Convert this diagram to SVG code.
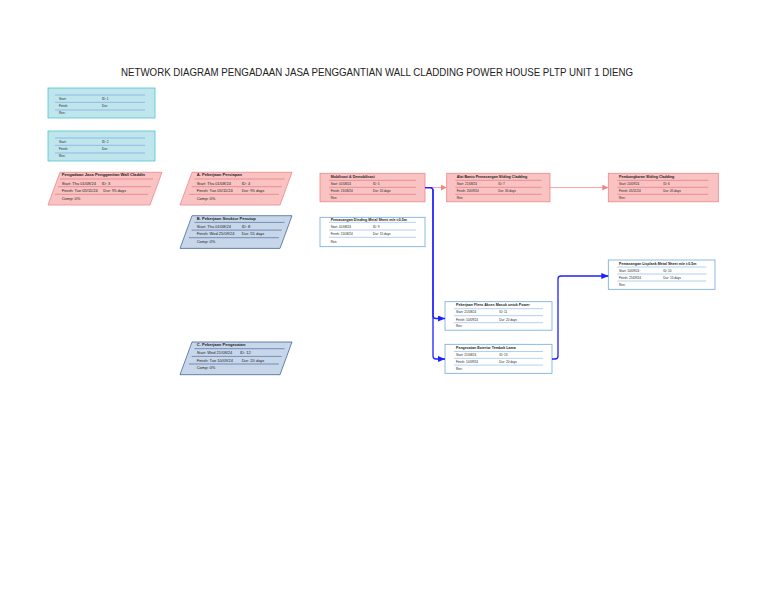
<svg xmlns="http://www.w3.org/2000/svg" width="768" height="594" viewBox="0 0 768 594">
<style>
text{font-family:"Liberation Sans",Arial,sans-serif;fill:#222}
.ttl{font-size:11px}
.bt{font-size:3.6px;font-weight:bold}
.bd{font-size:3.1px}
.pt{font-size:4.1px;font-weight:bold}
.pd{font-size:4px}
.leg{fill:#bfe6ec;stroke:#4ec4d3;stroke-width:0.8}
.legl{stroke:#6f9be3;stroke-width:0.6}
.pk{fill:#f9c3c3;stroke:#f08585;stroke-width:0.8}
.pkl{stroke:#e06a6a;stroke-width:0.6}
.gy{fill:#c8d6ea;stroke:#44679a;stroke-width:0.8}
.gyl{stroke:#3b5d8f;stroke-width:0.6}
.wh{fill:#ffffff;stroke:#6fa8dc;stroke-width:0.8}
.whl{stroke:#7fb0e4;stroke-width:0.6}
.cp{fill:none;stroke:#f28b8b;stroke-width:0.8}
.cb{fill:none;stroke:#2020ff;stroke-width:1.3}
</style>
<defs>
<marker id="ap" markerUnits="userSpaceOnUse" markerWidth="6" markerHeight="6" refX="6" refY="3" orient="auto"><path d="M0,0 L6,3 L0,6 z" fill="#f08585"/></marker>
<marker id="ab" markerUnits="userSpaceOnUse" markerWidth="7" markerHeight="6" refX="7" refY="3" orient="auto"><path d="M0,0 L7,3 L0,6 z" fill="#2020ff"/></marker>
</defs>
<rect width="768" height="594" fill="#ffffff"/>
<text class="ttl" x="121" y="75.5" textLength="512" lengthAdjust="spacingAndGlyphs">NETWORK DIAGRAM PENGADAAN JASA PENGGANTIAN WALL CLADDING POWER HOUSE PLTP UNIT 1 DIENG</text>

<g id="legend1" transform="translate(48,88)">
<rect class="leg" x="0" y="0" width="107" height="30"/>
<line class="legl" x1="7" y1="7" x2="97" y2="7"/>
<line class="legl" x1="7" y1="14.3" x2="97" y2="14.3"/>
<line class="legl" x1="7" y1="22" x2="97" y2="22"/>
<text class="bd" x="11" y="12">Start:</text><text class="bd" x="54" y="12">ID:  1</text>
<text class="bd" x="11" y="19">Finish:</text><text class="bd" x="54" y="19">Dur:</text>
<text class="bd" x="11" y="26">Res:</text>
</g>
<g id="legend2" transform="translate(48,131)">
<rect class="leg" x="0" y="0" width="107" height="30"/>
<line class="legl" x1="7" y1="7" x2="97" y2="7"/>
<line class="legl" x1="7" y1="14.3" x2="97" y2="14.3"/>
<line class="legl" x1="7" y1="22" x2="97" y2="22"/>
<text class="bd" x="11" y="12">Start:</text><text class="bd" x="54" y="12">ID:  2</text>
<text class="bd" x="11" y="19">Finish:</text><text class="bd" x="54" y="19">Dur:</text>
<text class="bd" x="11" y="26">Res:</text>
</g>

<g id="task3" transform="translate(48,172.3)">
<polygon class="pk" points="12,0 114,0 102,32.7 0,32.7"/>
<line class="pkl" x1="12" y1="6.7" x2="105" y2="6.7"/>
<line class="pkl" x1="10" y1="14.4" x2="103" y2="14.4"/>
<line class="pkl" x1="7" y1="22" x2="100" y2="22"/>
<text class="pt" x="13.7" y="4.2">Pengadaan Jasa Penggantian Wall Claddin</text>
<text class="pd" x="13.7" y="12.4">Start: Thu 01/08/24</text><text class="pd" x="53.7" y="12.4">ID:  3</text>
<text class="pd" x="13.7" y="19.8">Finish: Tue 05/11/24</text><text class="pd" x="55.3" y="19.8">Dur: 95 days</text>
<text class="pd" x="13.7" y="27.3">Comp: 0%</text>
</g>

<g id="task4" transform="translate(180,172.3)">
<polygon class="pk" points="12,0 112,0 100,32.7 0,32.7"/>
<line class="pkl" x1="14.5" y1="6.7" x2="104.5" y2="6.7"/>
<line class="pkl" x1="11.7" y1="14.4" x2="101.7" y2="14.4"/>
<line class="pkl" x1="8.9" y1="22" x2="98.9" y2="22"/>
<text class="pt" x="16.7" y="4.2">A. Pekerjaan Persiapan</text>
<text class="pd" x="16.7" y="12.4">Start: Thu 01/08/24</text><text class="pd" x="61.7" y="12.4">ID:  4</text>
<text class="pd" x="16.7" y="19.8">Finish: Tue 05/11/24</text><text class="pd" x="61.7" y="19.8">Dur: 95 days</text>
<text class="pd" x="16.7" y="27.3">Comp: 0%</text>
</g>

<g id="task8" transform="translate(180,215.7)">
<polygon class="gy" points="12,0 112,0 100,32.7 0,32.7"/>
<line class="gyl" x1="14.5" y1="6.7" x2="104.5" y2="6.7"/>
<line class="gyl" x1="11.7" y1="14.4" x2="101.7" y2="14.4"/>
<line class="gyl" x1="8.9" y1="22" x2="98.9" y2="22"/>
<text class="pt" x="16.7" y="4.2">B. Pekerjaan Struktur Penutup</text>
<text class="pd" x="16.7" y="12.4">Start: Thu 01/08/24</text><text class="pd" x="61.7" y="12.4">ID:  8</text>
<text class="pd" x="16.7" y="19.8">Finish: Wed 25/09/24</text><text class="pd" x="61.7" y="19.8">Dur: 55 days</text>
<text class="pd" x="16.7" y="27.3">Comp: 0%</text>
</g>

<g id="task12" transform="translate(180,342)">
<polygon class="gy" points="12,0 112,0 100,32.7 0,32.7"/>
<line class="gyl" x1="14.5" y1="6.7" x2="104.5" y2="6.7"/>
<line class="gyl" x1="11.7" y1="14.4" x2="101.7" y2="14.4"/>
<line class="gyl" x1="8.9" y1="22" x2="98.9" y2="22"/>
<text class="pt" x="16.7" y="4.2">C. Pekerjaan Pengecatan</text>
<text class="pd" x="16.7" y="12.4">Start: Wed 21/08/24</text><text class="pd" x="60" y="12.4">ID:  12</text>
<text class="pd" x="16.7" y="19.8">Finish: Tue 10/09/24</text><text class="pd" x="61.7" y="19.8">Dur: 20 days</text>
<text class="pd" x="16.7" y="27.3">Comp: 0%</text>
</g>

<g id="task5" transform="translate(320,173.3)">
<rect class="pk" x="0" y="0" width="105" height="28.5"/>
<line class="pkl" x1="9" y1="7" x2="96" y2="7"/>
<line class="pkl" x1="9" y1="14" x2="96" y2="14"/>
<line class="pkl" x1="9" y1="21" x2="96" y2="21"/>
<text class="bt" x="10.7" y="4.6">Mobilisasi &amp; Demobilisasi</text>
<text class="bd" x="10.7" y="11.8">Start: 01/08/24</text><text class="bd" x="53" y="11.8">ID:  5</text>
<text class="bd" x="10.7" y="18.9">Finish: 21/08/24</text><text class="bd" x="53" y="18.9">Dur: 20 days</text>
<text class="bd" x="10.7" y="25.8">Res:</text>
</g>

<g id="task9" transform="translate(320,217.3)">
<rect class="wh" x="0" y="0" width="105" height="29.4"/>
<line class="whl" x1="9" y1="5" x2="96" y2="5"/>
<line class="whl" x1="9" y1="12.7" x2="96" y2="12.7"/>
<line class="whl" x1="9" y1="20" x2="96" y2="20"/>
<text class="bt" x="10.7" y="3.5">Pemasangan Dinding Metal Sheet m/e t:0.5m</text>
<text class="bd" x="10.7" y="10.4">Start: 01/08/24</text><text class="bd" x="53" y="10.4">ID:  9</text>
<text class="bd" x="10.7" y="18">Finish: 15/08/24</text><text class="bd" x="53" y="18">Dur: 15 days</text>
<text class="bd" x="10.7" y="25.4">Res:</text>
</g>

<g id="task7" transform="translate(446.7,173.3)">
<rect class="pk" x="0" y="0" width="103.3" height="28.5"/>
<line class="pkl" x1="8.5" y1="7" x2="95" y2="7"/>
<line class="pkl" x1="8.5" y1="14" x2="95" y2="14"/>
<line class="pkl" x1="8.5" y1="21" x2="95" y2="21"/>
<text class="bt" x="10" y="4.6">Alat Bantu Pemasangan Sliding Cladding</text>
<text class="bd" x="10" y="11.8">Start: 21/08/24</text><text class="bd" x="51.6" y="11.8">ID:  7</text>
<text class="bd" x="10" y="18.9">Finish: 20/09/24</text><text class="bd" x="51.6" y="18.9">Dur: 30 days</text>
<text class="bd" x="10" y="25.8">Res:</text>
</g>

<g id="task6" transform="translate(608.3,173.3)">
<rect class="pk" x="0" y="0" width="110" height="28.5"/>
<line class="pkl" x1="9" y1="7" x2="100" y2="7"/>
<line class="pkl" x1="9" y1="14" x2="100" y2="14"/>
<line class="pkl" x1="9" y1="21" x2="100" y2="21"/>
<text class="bt" x="10.7" y="4.6">Pembongkaran Sliding Cladding</text>
<text class="bd" x="10.7" y="11.8">Start: 20/09/24</text><text class="bd" x="55" y="11.8">ID:  6</text>
<text class="bd" x="10.7" y="18.9">Finish: 05/11/24</text><text class="bd" x="55" y="18.9">Dur: 45 days</text>
<text class="bd" x="10.7" y="25.8">Res:</text>
</g>

<g id="task10" transform="translate(608.3,260)">
<rect class="wh" x="0" y="0" width="106.7" height="29.3"/>
<line class="whl" x1="9" y1="7" x2="98" y2="7"/>
<line class="whl" x1="9" y1="14" x2="98" y2="14"/>
<line class="whl" x1="9" y1="21" x2="98" y2="21"/>
<text class="bt" x="10.7" y="4.6">Pemasangan Lisplank Metal Sheet m/e t:0.5m</text>
<text class="bd" x="10.7" y="11.8">Start: 10/09/24</text><text class="bd" x="55" y="11.8">ID:  10</text>
<text class="bd" x="10.7" y="18.9">Finish: 25/09/24</text><text class="bd" x="55" y="18.9">Dur: 15 days</text>
<text class="bd" x="10.7" y="25.8">Res:</text>
</g>

<g id="task11" transform="translate(445,301.7)">
<rect class="wh" x="0" y="0" width="107" height="28.5"/>
<line class="whl" x1="9" y1="7" x2="98" y2="7"/>
<line class="whl" x1="9" y1="14" x2="98" y2="14"/>
<line class="whl" x1="9" y1="21" x2="98" y2="21"/>
<text class="bt" x="11" y="4.6">Pekerjaan Flens Akses Masuk untuk Power</text>
<text class="bd" x="11" y="11.8">Start: 21/08/24</text><text class="bd" x="54.3" y="11.8">ID:  11</text>
<text class="bd" x="11" y="18.9">Finish: 10/09/24</text><text class="bd" x="54.3" y="18.9">Dur: 20 days</text>
<text class="bd" x="11" y="25.8">Res:</text>
</g>

<g id="task13" transform="translate(445,344.3)">
<rect class="wh" x="0" y="0" width="107" height="29"/>
<line class="whl" x1="9" y1="7.2" x2="98" y2="7.2"/>
<line class="whl" x1="9" y1="14" x2="98" y2="14"/>
<line class="whl" x1="9" y1="20.8" x2="98" y2="20.8"/>
<text class="bt" x="11" y="4.6">Pengecatan Exterior Tembok Lama</text>
<text class="bd" x="11" y="11.8">Start: 21/08/24</text><text class="bd" x="54.3" y="11.8">ID:  13</text>
<text class="bd" x="11" y="18.6">Finish: 10/09/24</text><text class="bd" x="54.3" y="18.6">Dur: 20 days</text>
<text class="bd" x="11" y="25.8">Res:</text>
</g>

<g id="connectors">
<path class="cp" d="M425,187.6 H446.7" marker-end="url(#ap)"/>
<path class="cp" d="M550,187.6 H608.3" marker-end="url(#ap)"/>
<path class="cb" d="M425,187.6 H430 Q433,187.6 433,190.6 V315.5 Q433,318.5 436,318.5 H445" marker-end="url(#ab)"/>
<path class="cb" d="M425,187.6 H430 Q433,187.6 433,190.6 V356 Q433,359 436,359 H445" marker-end="url(#ab)"/>
<path class="cb" d="M552,359 H555 Q558,359 558,356 V279 Q558,276 561,276 H608.3" marker-end="url(#ab)"/>
</g>
</svg>
